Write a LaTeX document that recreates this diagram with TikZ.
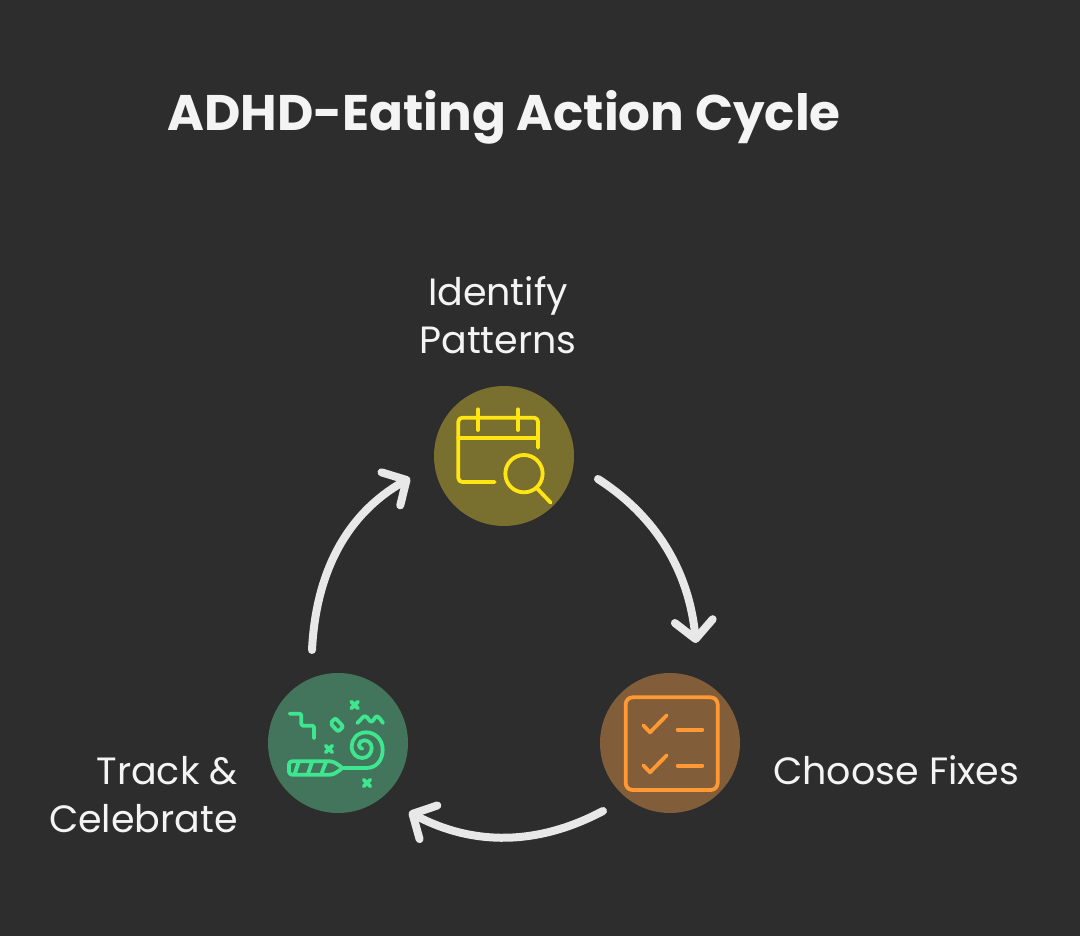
\documentclass[tikz,border=0pt]{standalone}
\usepackage{fontspec}
\setmainfont{Poppins}
\usetikzlibrary{arrows.meta}
\definecolor{bg}{HTML}{2D2D2D}
\definecolor{ink}{HTML}{F4F4F4}
\definecolor{arrowc}{HTML}{E8E8E8}
\definecolor{yl}{HTML}{FFE512}
\definecolor{ylf}{HTML}{79702F}
\definecolor{og}{HTML}{FF9933}
\definecolor{ogf}{HTML}{815D3A}
\definecolor{gr}{HTML}{3EE68F}
\definecolor{grf}{HTML}{43755C}
\tikzset{
  x=1pt,y=-1pt,
  disc/.style={circle,minimum size=140pt,inner sep=0pt,draw=none},
  label text/.style={text=ink,font=\fontsize{38}{48}\selectfont,inner sep=0pt},
  title text/.style={text=ink,font=\fontsize{50}{56}\selectfont\bfseries,inner sep=0pt},
  cycle arrow/.style={draw=arrowc,line width=8pt,line cap=round,
    -{Straight Barb[length=18pt,width=38pt,round]}},
  icon/.style={line width=3.8pt,line cap=round,line join=round},
}
\begin{document}
\begin{tikzpicture}
\useasboundingbox[fill=bg] (0,0) rectangle (1080,936);

\node[title text,anchor=base] (title) at (504,131) {ADHD-Eating Action Cycle};

\node[disc,fill=ylf] (ny) at (504,456) {};
\node[disc,fill=ogf] (no) at (670,743) {};
\node[disc,fill=grf] (ng) at (338,743) {};

\node[label text,align=center,anchor=base] (ly) at (498,353) {Identify\\Patterns};
\node[label text,anchor=base west] (lo) at (773,784.5) {Choose Fixes};
\node[label text,align=right,anchor=base east] (lg) at (238,832.5) {Track \&\\Celebrate};

% calendar icon
\begin{scope}[icon,draw=yl,xshift=424pt,yshift=-376pt,x=0.33333pt,y=-0.33333pt]
  \draw[rounded corners=4pt] (342,215) -- (342,125) -- (103,125) -- (103,318) -- (212,318);
  \draw (103,185) -- (342,185);
  \draw (162,100) -- (162,162);
  \draw (282,100) -- (282,162);
  \draw (300,293) circle[radius=56];
  \draw (340,338) -- (380,380);
\end{scope}

% checklist icon
\begin{scope}[icon,draw=og,xshift=590pt,yshift=-663pt,x=0.33333pt,y=-0.33333pt]
  \draw[rounded corners=7pt] (107,103) rectangle (383,381);
  \draw (160,187) -- (180,208) -- (230,157);
  \draw (160,307) -- (180,328) -- (230,277);
  \draw (263,200) -- (337,200);
  \draw (263,308) -- (337,308);
\end{scope}

% party icon
\begin{scope}[icon,draw=gr,xshift=258pt,yshift=-663pt,x=0.33333pt,y=-0.33333pt]
  \draw[rounded corners=2pt] (95,152) -- (130,152) -- (130,188) -- (168,188) -- (168,226);
  \draw[rounded corners=2pt] (232,165) -- (256,191) -- (240,206) -- (217,181) -- cycle;
  \draw (280,116) -- (300,136) (300,116) -- (280,136);
  \draw (203,248) -- (223,268) (223,248) -- (203,268);
  \draw (317,350) -- (337,370) (337,350) -- (317,370);
  \draw (298,180) .. controls (310,170) and (315,158) .. (322,160)
     .. controls (330,162) and (333,175) .. (340,176)
     .. controls (347,175) and (350,160) .. (358,160)
     .. controls (365,162) and (368,172) .. (375,180);
  \draw[rounded corners=3pt] (225,295) -- (93,295) -- (93,335) -- (225,335) -- (255,315) -- cycle;
  \draw (110,333) -- (122,297) (150,333) -- (162,297) (190,333) -- (204,297);
  \draw (255,315) -- (325,315)
     .. controls (355,315) and (374,292) .. (374,260)
     .. controls (374,228) and (350,208) .. (325,208)
     .. controls (298,208) and (281,228) .. (281,250)
     .. controls (281,272) and (296,285) .. (313,285)
     .. controls (330,285) and (341,270) .. (341,255)
     .. controls (341,240) and (330,232) .. (318,232)
     .. controls (310,232) and (303,238) .. (303,246)
     .. controls (303,252) and (307,257) .. (313,257);
\end{scope}

% connectors
\coordinate (a1s) at (598,479);
\coordinate (a1p) at (656,516.3);
\coordinate (a1q) at (688.7,570.7);
\coordinate (a1e) at (696,643);
\coordinate (a2s) at (603,811);
\coordinate (a2p) at (537.7,845.7);
\coordinate (a2q) at (473.3,846);
\coordinate (a2e) at (409,812);
\coordinate (a3s) at (312,650);
\coordinate (a3p) at (316,570);
\coordinate (a3q) at (348.3,513);
\coordinate (a3e) at (410,478);
\draw[cycle arrow] (a1s) .. controls (a1p) and (a1q) .. (a1e);
\draw[cycle arrow] (a2s) .. controls (a2p) and (a2q) .. (a2e);
\draw[cycle arrow] (a3s) .. controls (a3p) and (a3q) .. (a3e);
\end{tikzpicture}
\end{document}
